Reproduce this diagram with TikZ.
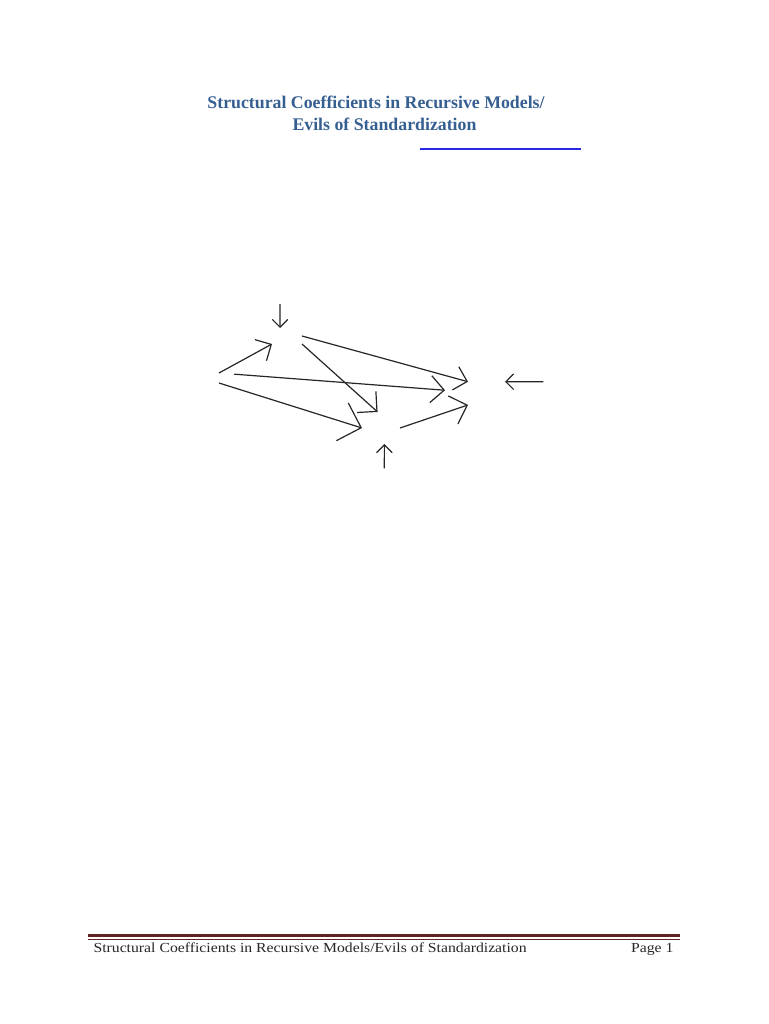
\documentclass[tikz,border=0pt]{standalone}
\usepackage{fontspec}
\setmainfont{Liberation Serif}
\newfontfamily\footfamily[FakeStretch=1.14]{Liberation Serif}
\usetikzlibrary{arrows.meta}
\definecolor{titleblue}{RGB}{54,95,145}
\definecolor{ruleblue}{RGB}{40,40,230}
\definecolor{footred}{RGB}{98,36,35}
\begin{document}
\begin{tikzpicture}[x=1pt,y=-1pt,
    var/.style={inner sep=0pt, outer sep=0pt},
    path/.style={line width=1.2pt, draw=black!85, -{Straight Barb[angle=90:#1]}},
    path/.default=17pt]
  \useasboundingbox (0,0) rectangle (768,1024);
  \def\titlefont{\fontsize{17.8}{20}\selectfont\bfseries}
  \def\footfont{\footfamily\fontsize{13.8}{16}\selectfont}
  % heading
  \node[anchor=base, text=titleblue] (title1) at (376,109) {\titlefont Structural Coefficients in Recursive Models/};
  \node[anchor=base, text=titleblue] (title2) at (384.5,131) {\titlefont Evils of Standardization};
  \draw[ruleblue, line width=1.2pt] (420,149) -- (580.5,149);
  % variables
  \node[var, minimum width=8, minimum height=10] (x1) at (215,378) {};
  \node[var, minimum width=30, minimum height=16] (x2) at (287,336) {};
  \node[var, minimum width=38, minimum height=32] (x3) at (381,428) {};
  \node[var, minimum width=37, minimum height=28] (x4) at (486.5,392) {};
  % disturbances
  \coordinate (e2) at (280,304);
  \coordinate (e3) at (384.3,468.3);
  \coordinate (e4) at (543.3,381.7);
  % paths
  \draw[path] (x1.north east) -- (x2.south west);
  \draw[path=19pt, shorten <=15.3pt, shorten >=23pt] (x1.north east) -- (x4.west);
  \draw[path=28pt] (x1.south east) -- (x3.west);
  \draw[path] (x2.east) -- (x4.151);
  \draw[path=20pt] (x2.south east) -- (x3.102);
  \draw[path=21pt] (x3.east) -- (x4.215);
  \foreach \e/\v in {e2/x2.131, e3/x3.282, e4/x4.29} {
      \draw[path=11pt] (\e) -- (\v);
  }
  % footer
  \draw[footred, line width=3pt] (88.3,935.8) -- (680,935.8);
  \draw[footred, line width=0.9pt] (88.3,939.5) -- (680,939.5);
  \node[anchor=base west, text=black!85] (foot) at (90,952.3) {\footfont Structural Coefficients in Recursive Models/Evils of Standardization};
  \node[anchor=base east, text=black!85] (page) at (677,952.3) {\footfont Page 1};
\end{tikzpicture}
\end{document}
